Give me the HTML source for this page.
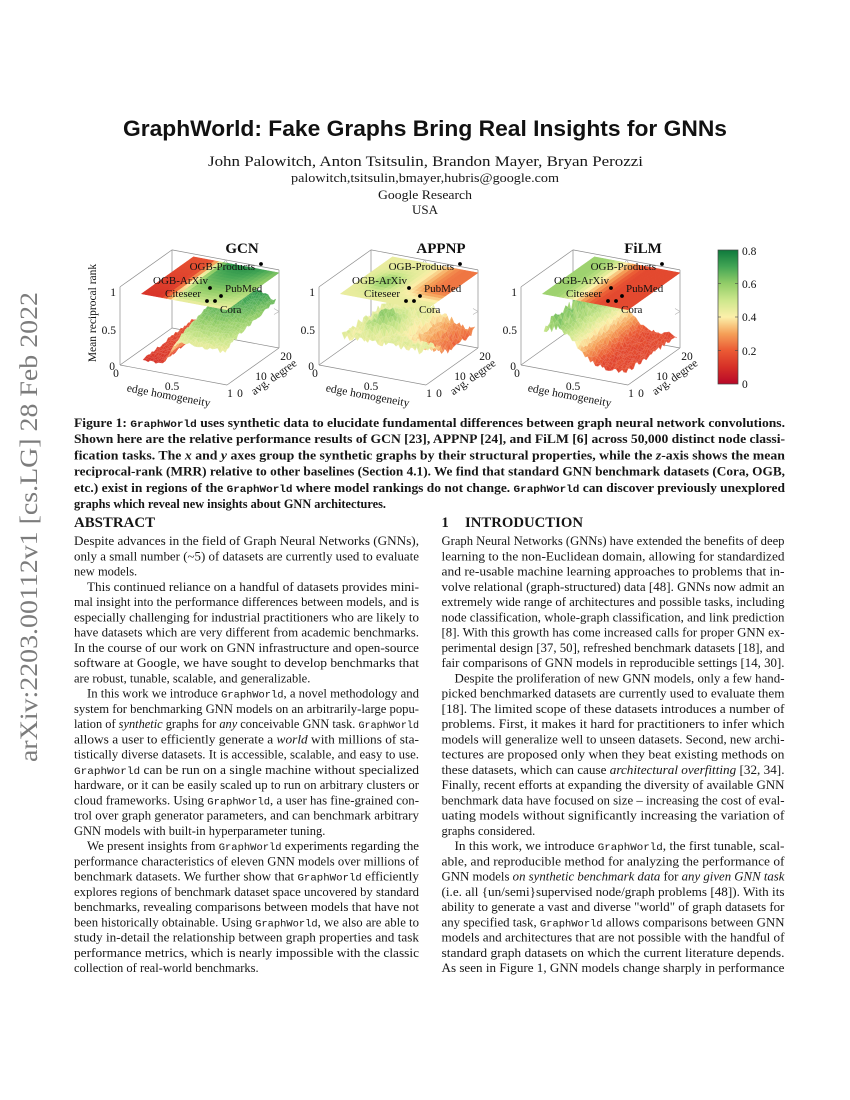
<!DOCTYPE html>
<html><head><meta charset="utf-8">
<style>
html,body{margin:0;padding:0;background:#fff;}
svg{display:block}
.s{font-family:"Liberation Serif",serif;fill:#161616;font-size:12.5px}
.b{font-weight:bold}
.m{font-family:"Liberation Mono",monospace;font-size:10.2px}
.i{font-style:italic}
.t{font-family:"Liberation Serif",serif;fill:#111;font-size:11.5px}
.d{font-family:"Liberation Serif",serif;fill:#111;font-size:11px}
</style></head><body>
<svg id="pg" width="850" height="1100" viewBox="0 0 850 1100" xmlns="http://www.w3.org/2000/svg">
<defs>
<linearGradient id="cb" x1="0" y1="1" x2="0" y2="0">
<stop offset="0" stop-color="rgb(184,8,40)"/>
<stop offset="0.125" stop-color="rgb(214,47,39)"/>
<stop offset="0.25" stop-color="rgb(235,90,52)"/>
<stop offset="0.375" stop-color="rgb(245,160,88)"/>
<stop offset="0.5" stop-color="rgb(252,240,170)"/>
<stop offset="0.625" stop-color="rgb(205,231,140)"/>
<stop offset="0.75" stop-color="rgb(146,205,104)"/>
<stop offset="0.875" stop-color="rgb(67,166,85)"/>
<stop offset="1" stop-color="rgb(14,121,60)"/>
</linearGradient>
</defs>
<rect width="850" height="1100" fill="#fff"/>

<!-- arXiv side stamp -->
<text transform="translate(37,762) rotate(-90)" font-family="Liberation Serif,serif" font-size="25" fill="#7c7c7c" textLength="470" lengthAdjust="spacingAndGlyphs">arXiv:2203.00112v1  [cs.LG]  28 Feb 2022</text>

<!-- header -->
<text x="123" y="136" font-family="Liberation Sans,sans-serif" font-weight="bold" font-size="22" fill="#111" textLength="604" lengthAdjust="spacingAndGlyphs">GraphWorld: Fake Graphs Bring Real Insights for GNNs</text>
<text x="208" y="166" class="s" style="font-size:15px" textLength="435" lengthAdjust="spacingAndGlyphs">John Palowitch, Anton Tsitsulin, Brandon Mayer, Bryan Perozzi</text>
<text x="291" y="182" class="s" style="font-size:12.5px" textLength="268" lengthAdjust="spacingAndGlyphs">palowitch,tsitsulin,bmayer,hubris@google.com</text>
<text x="378" y="199" class="s" style="font-size:13px" textLength="94" lengthAdjust="spacingAndGlyphs">Google Research</text>
<text x="412" y="214" class="s" style="font-size:13px" textLength="26" lengthAdjust="spacingAndGlyphs">USA</text>

<!-- figure surfaces generated by script -->
<g id="fig"></g>

<!-- figure labels -->
<g id="labels"></g>

<!-- colorbar -->
<rect x="718" y="250" width="20" height="134" fill="url(#cb)" stroke="#444" stroke-width="0.7"/>
<g stroke="#444" stroke-width="0.6">
<line x1="718" y1="283.5" x2="721" y2="283.5"/><line x1="735" y1="283.5" x2="738" y2="283.5"/>
<line x1="718" y1="317" x2="721" y2="317"/><line x1="735" y1="317" x2="738" y2="317"/>
<line x1="718" y1="350.5" x2="721" y2="350.5"/><line x1="735" y1="350.5" x2="738" y2="350.5"/>
</g>
<text class="t" x="742" y="255">0.8</text>
<text class="t" x="742" y="288">0.6</text>
<text class="t" x="742" y="321">0.4</text>
<text class="t" x="742" y="355">0.2</text>
<text class="t" x="742" y="388">0</text>

<!-- caption -->
<g class="s b">
<text x="74" y="427" textLength="711" lengthAdjust="spacingAndGlyphs">Figure 1: <tspan class="m">GraphWorld</tspan> uses synthetic data to elucidate fundamental differences between graph neural network convolutions.</text>
<text x="74" y="443.2" textLength="711" lengthAdjust="spacingAndGlyphs">Shown here are the relative performance results of GCN [23], APPNP [24], and FiLM [6] across 50,000 distinct node classi-</text>
<text x="74" y="459.4" textLength="711" lengthAdjust="spacingAndGlyphs">fication tasks. The <tspan class="i">x</tspan> and <tspan class="i">y</tspan> axes group the synthetic graphs by their structural properties, while the <tspan class="i">z</tspan>-axis shows the mean</text>
<text x="74" y="475.6" textLength="711" lengthAdjust="spacingAndGlyphs">reciprocal-rank (MRR) relative to other baselines (Section 4.1). We find that standard GNN benchmark datasets (Cora, OGB,</text>
<text x="74" y="491.8" textLength="711" lengthAdjust="spacingAndGlyphs">etc.) exist in regions of the <tspan class="m">GraphWorld</tspan> where model rankings do not change. <tspan class="m">GraphWorld</tspan> can discover previously unexplored</text>
<text x="74" y="508" textLength="312" lengthAdjust="spacingAndGlyphs">graphs which reveal new insights about GNN architectures.</text>
</g>

<!-- headings -->
<text x="74" y="527" class="s b" style="font-size:14.5px" textLength="81" lengthAdjust="spacingAndGlyphs">ABSTRACT</text>
<text x="441.5" y="527" class="s b" style="font-size:14.5px">1</text>
<text x="465" y="527" class="s b" style="font-size:14.5px" textLength="118" lengthAdjust="spacingAndGlyphs">INTRODUCTION</text>

<!-- left column -->
<g class="s">
<text x="74" y="545" textLength="345" lengthAdjust="spacingAndGlyphs">Despite advances in the field of Graph Neural Networks (GNNs),</text>
<text x="74" y="560.25" textLength="345" lengthAdjust="spacingAndGlyphs">only a small number (~5) of datasets are currently used to evaluate</text>
<text x="74" y="575.5">new models.</text>
<text x="87" y="590.75" textLength="332" lengthAdjust="spacingAndGlyphs">This continued reliance on a handful of datasets provides mini-</text>
<text x="74" y="606" textLength="345" lengthAdjust="spacingAndGlyphs">mal insight into the performance differences between models, and is</text>
<text x="74" y="621.25" textLength="345" lengthAdjust="spacingAndGlyphs">especially challenging for industrial practitioners who are likely to</text>
<text x="74" y="636.5" textLength="345" lengthAdjust="spacingAndGlyphs">have datasets which are very different from academic benchmarks.</text>
<text x="74" y="651.75" textLength="345" lengthAdjust="spacingAndGlyphs">In the course of our work on GNN infrastructure and open-source</text>
<text x="74" y="667" textLength="345" lengthAdjust="spacingAndGlyphs">software at Google, we have sought to develop benchmarks that</text>
<text x="74" y="682.25">are robust, tunable, scalable, and generalizable.</text>
<text x="87" y="697.5" textLength="332" lengthAdjust="spacingAndGlyphs">In this work we introduce <tspan class="m">GraphWorld</tspan>, a novel methodology and</text>
<text x="74" y="712.75" textLength="345" lengthAdjust="spacingAndGlyphs">system for benchmarking GNN models on an arbitrarily-large popu-</text>
<text x="74" y="728" textLength="345" lengthAdjust="spacingAndGlyphs">lation of <tspan class="i">synthetic</tspan> graphs for <tspan class="i">any</tspan> conceivable GNN task. <tspan class="m">GraphWorld</tspan></text>
<text x="74" y="743.25" textLength="345" lengthAdjust="spacingAndGlyphs">allows a user to efficiently generate a <tspan class="i">world</tspan> with millions of sta-</text>
<text x="74" y="758.5" textLength="345" lengthAdjust="spacingAndGlyphs">tistically diverse datasets. It is accessible, scalable, and easy to use.</text>
<text x="74" y="773.75" textLength="345" lengthAdjust="spacingAndGlyphs"><tspan class="m">GraphWorld</tspan> can be run on a single machine without specialized</text>
<text x="74" y="789" textLength="345" lengthAdjust="spacingAndGlyphs">hardware, or it can be easily scaled up to run on arbitrary clusters or</text>
<text x="74" y="804.25" textLength="345" lengthAdjust="spacingAndGlyphs">cloud frameworks. Using <tspan class="m">GraphWorld</tspan>, a user has fine-grained con-</text>
<text x="74" y="819.5" textLength="345" lengthAdjust="spacingAndGlyphs">trol over graph generator parameters, and can benchmark arbitrary</text>
<text x="74" y="834.75">GNN models with built-in hyperparameter tuning.</text>
<text x="87" y="850" textLength="332" lengthAdjust="spacingAndGlyphs">We present insights from <tspan class="m">GraphWorld</tspan> experiments regarding the</text>
<text x="74" y="865.25" textLength="345" lengthAdjust="spacingAndGlyphs">performance characteristics of eleven GNN models over millions of</text>
<text x="74" y="880.5" textLength="345" lengthAdjust="spacingAndGlyphs">benchmark datasets. We further show that <tspan class="m">GraphWorld</tspan> efficiently</text>
<text x="74" y="895.75" textLength="345" lengthAdjust="spacingAndGlyphs">explores regions of benchmark dataset space uncovered by standard</text>
<text x="74" y="911" textLength="345" lengthAdjust="spacingAndGlyphs">benchmarks, revealing comparisons between models that have not</text>
<text x="74" y="926.25" textLength="345" lengthAdjust="spacingAndGlyphs">been historically obtainable. Using <tspan class="m">GraphWorld</tspan>, we also are able to</text>
<text x="74" y="941.5" textLength="345" lengthAdjust="spacingAndGlyphs">study in-detail the relationship between graph properties and task</text>
<text x="74" y="956.75" textLength="345" lengthAdjust="spacingAndGlyphs">performance metrics, which is nearly impossible with the classic</text>
<text x="74" y="972">collection of real-world benchmarks.</text>
</g>

<!-- right column -->
<g class="s">
<text x="441.5" y="545" textLength="343" lengthAdjust="spacingAndGlyphs">Graph Neural Networks (GNNs) have extended the benefits of deep</text>
<text x="441.5" y="560.25" textLength="343" lengthAdjust="spacingAndGlyphs">learning to the non-Euclidean domain, allowing for standardized</text>
<text x="441.5" y="575.5" textLength="343" lengthAdjust="spacingAndGlyphs">and re-usable machine learning approaches to problems that in-</text>
<text x="441.5" y="590.75" textLength="343" lengthAdjust="spacingAndGlyphs">volve relational (graph-structured) data [48]. GNNs now admit an</text>
<text x="441.5" y="606" textLength="343" lengthAdjust="spacingAndGlyphs">extremely wide range of architectures and possible tasks, including</text>
<text x="441.5" y="621.25" textLength="343" lengthAdjust="spacingAndGlyphs">node classification, whole-graph classification, and link prediction</text>
<text x="441.5" y="636.5" textLength="343" lengthAdjust="spacingAndGlyphs">[8]. With this growth has come increased calls for proper GNN ex-</text>
<text x="441.5" y="651.75" textLength="343" lengthAdjust="spacingAndGlyphs">perimental design [37, 50], refreshed benchmark datasets [18], and</text>
<text x="441.5" y="667" textLength="343" lengthAdjust="spacingAndGlyphs">fair comparisons of GNN models in reproducible settings [14, 30].</text>
<text x="454.5" y="682.25" textLength="330" lengthAdjust="spacingAndGlyphs">Despite the proliferation of new GNN models, only a few hand-</text>
<text x="441.5" y="697.5" textLength="343" lengthAdjust="spacingAndGlyphs">picked benchmarked datasets are currently used to evaluate them</text>
<text x="441.5" y="712.75" textLength="343" lengthAdjust="spacingAndGlyphs">[18]. The limited scope of these datasets introduces a number of</text>
<text x="441.5" y="728" textLength="343" lengthAdjust="spacingAndGlyphs">problems. First, it makes it hard for practitioners to infer which</text>
<text x="441.5" y="743.25" textLength="343" lengthAdjust="spacingAndGlyphs">models will generalize well to unseen datasets. Second, new archi-</text>
<text x="441.5" y="758.5" textLength="343" lengthAdjust="spacingAndGlyphs">tectures are proposed only when they beat existing methods on</text>
<text x="441.5" y="773.75" textLength="343" lengthAdjust="spacingAndGlyphs">these datasets, which can cause <tspan class="i">architectural overfitting</tspan> [32, 34].</text>
<text x="441.5" y="789" textLength="343" lengthAdjust="spacingAndGlyphs">Finally, recent efforts at expanding the diversity of available GNN</text>
<text x="441.5" y="804.25" textLength="343" lengthAdjust="spacingAndGlyphs">benchmark data have focused on size – increasing the cost of eval-</text>
<text x="441.5" y="819.5" textLength="343" lengthAdjust="spacingAndGlyphs">uating models without significantly increasing the variation of</text>
<text x="441.5" y="834.75">graphs considered.</text>
<text x="454.5" y="850" textLength="330" lengthAdjust="spacingAndGlyphs">In this work, we introduce <tspan class="m">GraphWorld</tspan>, the first tunable, scal-</text>
<text x="441.5" y="865.25" textLength="343" lengthAdjust="spacingAndGlyphs">able, and reproducible method for analyzing the performance of</text>
<text x="441.5" y="880.5" textLength="343" lengthAdjust="spacingAndGlyphs">GNN models <tspan class="i">on synthetic benchmark data</tspan> for <tspan class="i">any given GNN task</tspan></text>
<text x="441.5" y="895.75" textLength="343" lengthAdjust="spacingAndGlyphs">(i.e. all {un/semi}supervised node/graph problems [48]). With its</text>
<text x="441.5" y="911" textLength="343" lengthAdjust="spacingAndGlyphs">ability to generate a vast and diverse "world" of graph datasets for</text>
<text x="441.5" y="926.25" textLength="343" lengthAdjust="spacingAndGlyphs">any specified task, <tspan class="m">GraphWorld</tspan> allows comparisons between GNN</text>
<text x="441.5" y="941.5" textLength="343" lengthAdjust="spacingAndGlyphs">models and architectures that are not possible with the handful of</text>
<text x="441.5" y="956.75" textLength="343" lengthAdjust="spacingAndGlyphs">standard graph datasets on which the current literature depends.</text>
<text x="441.5" y="972" textLength="343" lengthAdjust="spacingAndGlyphs">As seen in Figure 1, GNN models change sharply in performance</text>
</g>
</svg>
<script>
(function(){
var S='http://www.w3.org/2000/svg';
var fig=document.getElementById('fig');
var lab=document.getElementById('labels');
function el(t,a,p,txt){var e=document.createElementNS(S,t);for(var k in a)e.setAttribute(k,a[k]);if(txt!==undefined)e.textContent=txt;(p||fig).appendChild(e);return e;}
var st=[[0,[184,8,40]],[0.1,[214,47,39]],[0.2,[235,90,52]],[0.3,[245,160,88]],[0.4,[252,240,170]],[0.5,[205,231,140]],[0.6,[146,205,104]],[0.7,[67,166,85]],[0.8,[14,121,60]]];
function cm(t){t=Math.max(0,Math.min(0.8,t));for(var i=0;i<st.length-1;i++){if(t<=st[i+1][0]+1e-9){var a=st[i],b=st[i+1],f=(t-a[0])/(b[0]-a[0]);return a[1].map(function(c,k){return c+(b[1][k]-c)*f;});}}return st[st.length-1][1];}
function rgb(c,m){m=m||0;return 'rgb('+c.map(function(x){return Math.round(x+(255-x)*m);}).join(',')+')';}
function h(i,j,s){var x=Math.sin(i*127.1+j*311.7+s*74.7)*43758.5453;return x-Math.floor(x);}
function ss(a,b,x){var t=(x-a)/(b-a);t=t<0?0:t>1?1:t;return t*t*(3-2*t);}
var F=[
 function(u,v,n){
   var red=0.11+0.07*v+0.02*n;
   var green=0.38+0.37*Math.sqrt(v)*Math.exp(-Math.pow((u-0.68)/0.5,2))+0.03*n;
   return red+(green-red)*ss(0.36,0.54,u);
 },
 function(u,v,n){ return 0.44+0.16*Math.exp(-(Math.pow(u-0.42,2)/0.015+Math.pow(v-0.45,2)/0.05))-0.2*ss(0.55,0.9,u)*ss(0.1,0.5,v)+0.06*n; },
 function(u,v,n){ return 0.58-0.42*ss(0.3,0.75,u)+0.035*n+(u<0.35?0.05*n:0); }
];
var OX=[120,319,521];
var TITLES=['GCN','APPNP','FiLM'];
function P(ox,u,v,w){return [ox+107*u+52*v, 365+20*u-37*v-73*w];}
for(var k=0;k<3;k++){
 var ox=OX[k], f=F[k], T=1.07;
 var g=el('g',{stroke:'#8c8c8c','stroke-width':0.7,fill:'none'});
 var L=function(a,b){var p=P(ox,a[0],a[1],a[2]),q=P(ox,b[0],b[1],b[2]);el('line',{x1:p[0],y1:p[1],x2:q[0],y2:q[1]},g);};
 L([0,0,0],[1,0,0]);L([1,0,0],[1,1,0]);L([1,1,0],[0,1,0]);L([0,1,0],[0,0,0]);
 L([0,0,0],[0,0,T]);L([0,0,T],[0,1,T]);L([0,1,T],[0,1,0]);
 L([0,1,T],[1,1,T]);L([1,1,T],[1,1,0]);
 var tg=el('g',{stroke:'#b0b0b0','stroke-width':0.6,fill:'none'});
 var c1=P(ox,0,1,0.5); el('polyline',{points:(c1[0]+5)+','+(c1[1]-3)+' '+c1[0]+','+c1[1]+' '+(c1[0]+5)+','+(c1[1]+3)},tg);
 var c2=P(ox,1,1,0.5); el('polyline',{points:(c2[0]-5)+','+(c2[1]-3)+' '+c2[0]+','+c2[1]+' '+(c2[0]-5)+','+(c2[1]+3)},tg);
 var c3=P(ox,0.5,1,T); el('polyline',{points:(c3[0]-3)+','+(c3[1]+5)+' '+c3[0]+','+c3[1]+' '+(c3[0]+3)+','+(c3[1]+5)},tg);
 var c4=P(ox,0.5,1,0); el('polyline',{points:(c4[0]-3)+','+(c4[1]-5)+' '+c4[0]+','+c4[1]+' '+(c4[0]+3)+','+(c4[1]-5)},tg);
 // surface
 var Nu=32,Nv=28,u0=0.2,u1=0.97,v0=0.03,v1=1,W=[],i,j;
 for(i=0;i<=Nu;i++){W[i]=[];for(j=0;j<=Nv;j++){var u=u0+(u1-u0)*i/Nu,v=v0+(v1-v0)*j/Nv;var n=h(i,j,k+1)*2-1;W[i][j]=[u,v,Math.max(0.02,f(u,v,n))];}}
 var Q=[];
 for(i=0;i<Nu;i++)for(j=0;j<Nv;j++){
  var c=[W[i][j],W[i+1][j],W[i+1][j+1],W[i][j+1]];
  var uc=0,vc=0,wc=0;c.forEach(function(p){uc+=p[0]/4;vc+=p[1]/4;wc+=p[2]/4;});
  Q.push({c:c,w:wc,d:3796*uc-7811*vc+4999*wc});
 }
 Q.sort(function(a,b){return a.d-b.d;});
 var sg=el('g',{'stroke-width':0.45,'stroke-linejoin':'round'});
 Q.forEach(function(q){
  var pts=q.c.map(function(p){var s=P(ox,p[0],p[1],p[2]);return s[0].toFixed(2)+','+s[1].toFixed(2);}).join(' ');
  var col=cm(q.w);
  el('polygon',{points:pts,fill:rgb(col),stroke:rgb(col,0.18)},sg);
 });
 // top plane
 var pg=el('g',{'stroke-width':0.5});
 var PN=20,PV=16,pw=1.03;
 for(i=0;i<PN;i++)for(j=0;j<PV;j++){
  var ua=0.2+0.8*i/PN,ub=0.2+0.8*(i+1)/PN,va=j/PV,vb=(j+1)/PV;
  var col2=cm(f((ua+ub)/2,(va+vb)/2,0));
  var a1=P(ox,ua,va,pw),a2=P(ox,ub,va,pw),a3=P(ox,ub,vb,pw),a4=P(ox,ua,vb,pw);
  el('polygon',{points:[a1,a2,a3,a4].map(function(s){return s[0].toFixed(2)+','+s[1].toFixed(2);}).join(' '),fill:rgb(col2),stroke:rgb(col2)},pg);
 }
 [[141,264],[90,288],[101,296],[87,301],[95,301]].forEach(function(d){el('circle',{cx:ox+d[0],cy:d[1],r:1.9,fill:'#000'},lab);});
 el('text',{x:ox+135,y:270,'text-anchor':'end','class':'d'},lab,'OGB-Products');
 el('text',{x:ox+33,y:284,'class':'d'},lab,'OGB-ArXiv');
 el('text',{x:ox+105,y:292,'class':'d'},lab,'PubMed');
 el('text',{x:ox+45,y:297,'class':'d'},lab,'Citeseer');
 el('text',{x:ox+100,y:313,'class':'d'},lab,'Cora');
 el('text',{x:ox+122,y:253,'text-anchor':'middle','font-family':'Liberation Serif,serif','font-weight':'bold','font-size':'15',fill:'#111'},lab,TITLES[k]);
 el('text',{x:ox-4,y:296,'text-anchor':'end','class':'t'},lab,'1');
 el('text',{x:ox-4,y:334,'text-anchor':'end','class':'t'},lab,'0.5');
 el('text',{x:ox-5,y:370,'text-anchor':'end','class':'t'},lab,'0');
 el('text',{x:ox-4,y:377,'text-anchor':'middle','class':'t'},lab,'0');
 el('text',{x:ox+52,y:390,'text-anchor':'middle','class':'t'},lab,'0.5');
 el('text',{x:ox+110,y:397,'text-anchor':'middle','class':'t'},lab,'1');
 el('text',{x:ox+120,y:397,'text-anchor':'middle','class':'t'},lab,'0');
 el('text',{x:ox+141,y:380,'text-anchor':'middle','class':'t'},lab,'10');
 el('text',{x:ox+166,y:360,'text-anchor':'middle','class':'t'},lab,'20');
 el('text',{transform:'translate('+(ox+48)+',399) rotate(10.6)','text-anchor':'middle','class':'t'},lab,'edge homogeneity');
 el('text',{transform:'translate('+(ox+156)+',380) rotate(-35.4)','text-anchor':'middle','class':'t'},lab,'avg. degree');
 if(k===0){
  el('text',{transform:'translate('+(ox-24)+',313) rotate(-90)','text-anchor':'middle','class':'t'},lab,'Mean reciprocal rank');
 }
}
})();
</script>
</body></html>
